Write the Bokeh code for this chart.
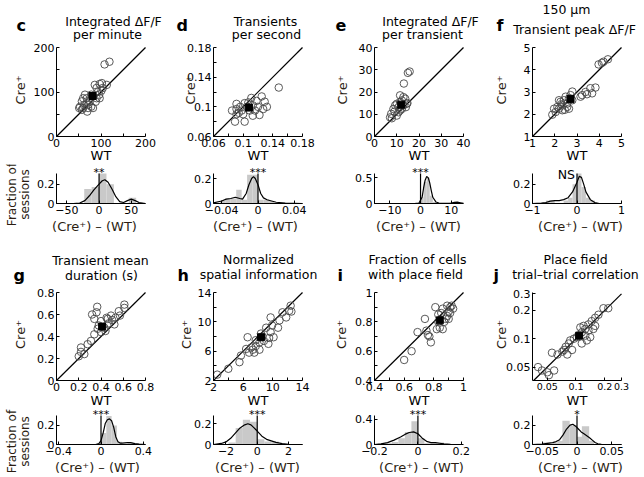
import numpy as np
from bokeh.plotting import figure
from bokeh.layouts import column, row
from bokeh.models import Range1d, Label, FixedTicker
from bokeh.embed import file_html
from bokeh.resources import INLINE

FONT = "DejaVu Sans"
MINUS = "\u2212"

# ---------------- scatter data (WT, Cre+) ----------------
C_WT = [108, 119, 86, 97, 102, 113, 90, 101, 96, 60, 57, 53, 60, 69, 78, 75, 68, 82, 64, 90, 57, 71, 82, 51, 68, 78, 97, 104, 72, 88, 62, 93]
C_CRE = [162, 168, 116, 118, 120, 116, 109, 103, 94, 86, 79, 67, 64, 56, 67, 79, 75, 90, 94, 86, 60, 64, 64, 64, 86, 94, 86, 109, 72, 78, 70, 100]
C_MEAN = (81, 91)

D_WT = [0.148, 0.091, 0.102, 0.111, 0.125, 0.129, 0.132, 0.122, 0.113, 0.102, 0.089, 0.091, 0.085, 0.098, 0.105, 0.113, 0.120, 0.127, 0.109, 0.096, 0.100, 0.091, 0.107, 0.116, 0.118, 0.094]
D_CRE = [0.126, 0.104, 0.105, 0.112, 0.114, 0.107, 0.100, 0.089, 0.088, 0.080, 0.080, 0.090, 0.095, 0.095, 0.100, 0.102, 0.100, 0.097, 0.095, 0.100, 0.090, 0.097, 0.106, 0.095, 0.108, 0.092]
D_MEAN = (0.108, 0.099)

E_WT = [15.0, 15.8, 13.2, 11.5, 13.0, 13.8, 10.0, 8.5, 7.5, 7.8, 10.8, 12.3, 14.5, 9.3, 11.5, 13.0, 10.8, 9.0, 12.3, 14.1, 14.8, 11.5, 7.0, 10.0]
E_CRE = [28.6, 29.2, 23.8, 18.5, 17.7, 17.0, 14.7, 12.4, 10.2, 8.2, 10.9, 12.4, 14.7, 14.0, 15.5, 14.0, 13.2, 11.2, 16.2, 13.2, 15.0, 11.7, 8.6, 9.4]
E_MEAN = (12.0, 14.3)

F_WT = [3.97, 4.19, 4.39, 4.12, 3.38, 3.60, 3.83, 3.23, 3.45, 3.68, 3.16, 1.89, 2.04, 2.19, 2.34, 2.26, 2.41, 2.56, 2.64, 2.71, 2.79, 2.49, 2.12, 2.34, 2.56, 2.79, 2.64, 2.19, 1.97, 2.30, 2.45]
F_CRE = [4.24, 4.36, 4.47, 4.31, 3.00, 3.17, 3.20, 2.86, 2.90, 2.94, 2.79, 1.98, 2.10, 2.25, 2.40, 2.56, 2.63, 2.48, 2.71, 2.86, 3.02, 2.79, 2.33, 2.18, 2.33, 2.63, 2.25, 2.63, 2.25, 2.45, 2.20]
F_MEAN = (2.71, 2.68)

G_WT = [0.366, 0.34, 0.32, 0.40, 0.38, 0.43, 0.46, 0.49, 0.53, 0.56, 0.61, 0.61, 0.57, 0.52, 0.47, 0.34, 0.31, 0.28, 0.22, 0.22, 0.25, 0.20, 0.40, 0.44, 0.37, 0.36, 0.50, 0.45]
G_CRE = [0.67, 0.56, 0.60, 0.54, 0.50, 0.48, 0.56, 0.59, 0.57, 0.63, 0.66, 0.69, 0.59, 0.51, 0.52, 0.42, 0.36, 0.33, 0.30, 0.26, 0.24, 0.22, 0.44, 0.45, 0.47, 0.62, 0.55, 0.57]
G_MEAN = (0.41, 0.49)

H_WT = [2.5, 4.0, 5.5, 5.7, 6.4, 6.6, 7.3, 7.7, 8.2, 8.6, 9.1, 9.5, 9.7, 9.9, 9.7, 10.9, 11.3, 11.8, 12.2, 12.4, 12.5, 10.7, 10.1, 9.4, 8.2, 7.5, 7.1, 8.8, 8.4, 7.7, 6.8]
H_CRE = [2.8, 3.6, 4.5, 5.4, 6.3, 7.9, 6.2, 6.7, 7.2, 8.0, 9.2, 7.8, 8.6, 9.5, 10.6, 10.2, 11.3, 10.6, 11.5, 12.2, 11.4, 9.2, 7.9, 7.0, 6.2, 5.8, 6.5, 7.4, 8.4, 7.5, 5.8]
H_MEAN = (8.4, 7.9)

I_WT = [0.60, 0.65, 0.69, 0.74, 0.75, 0.76, 0.77, 0.78, 0.81, 0.82, 0.83, 0.84, 0.86, 0.83, 0.86, 0.89, 0.91, 0.93, 0.90, 0.91, 0.88, 0.90, 0.85, 0.87, 0.92, 0.89]
I_CRE = [0.54, 0.60, 0.73, 0.82, 0.74, 0.71, 0.70, 0.66, 0.90, 0.75, 0.80, 0.76, 0.75, 0.85, 0.89, 0.91, 0.90, 0.89, 0.87, 0.86, 0.82, 0.82, 0.86, 0.80, 0.91, 0.84]
I_MEAN = (0.84, 0.81)

J_WT = [0.040, 0.044, 0.050, 0.052, 0.059, 0.056, 0.064, 0.072, 0.078, 0.075, 0.084, 0.087, 0.095, 0.102, 0.107, 0.115, 0.125, 0.135, 0.146, 0.159, 0.172, 0.194, 0.218, 0.115, 0.130, 0.141, 0.125, 0.111, 0.120, 0.135, 0.152, 0.159, 0.081, 0.091]
J_CRE = [0.050, 0.046, 0.044, 0.041, 0.046, 0.071, 0.068, 0.073, 0.082, 0.076, 0.089, 0.096, 0.100, 0.104, 0.108, 0.117, 0.127, 0.142, 0.154, 0.167, 0.180, 0.211, 0.211, 0.089, 0.096, 0.104, 0.108, 0.132, 0.137, 0.122, 0.127, 0.137, 0.068, 0.076]
J_MEAN = (0.108, 0.108)

# ---------------- histogram data: (Cre+) - (WT) ----------------
C_BIN_LEFT = [-23, -11.5, 0, 11.5, 46]
C_BIN_W = 11.5
C_BAR = [0.15, 0.17, 0.31, 0.2, 0.06]
C_KDE_X = [-66, -40, -30, -22, -15, -8, 0, 5, 9, 14, 20, 26, 32, 38, 44, 50, 56, 62, 72]
C_KDE_Y = [0, 0, 0.005, 0.03, 0.08, 0.14, 0.2, 0.235, 0.245, 0.22, 0.15, 0.07, 0.02, 0.01, 0.03, 0.045, 0.03, 0.01, 0]

D_BIN_LEFT = [-0.042, -0.036, -0.03, -0.024, -0.018, -0.012, -0.006, 0, 0.006, 0.012]
D_BIN_W = 0.006
D_BAR = [0.02, 0.04, 0.04, 0.11, 0.03, 0.23, 0.23, 0.03, 0.03, 0.02]
D_KDE_X = [-0.049, -0.04, -0.035, -0.03, -0.025, -0.02, -0.017, -0.013, -0.01, -0.007, -0.005, -0.003, 0, 0.003, 0.006, 0.01, 0.015, 0.02, 0.03, 0.049]
D_KDE_Y = [0.005, 0.02, 0.035, 0.04, 0.05, 0.04, 0.035, 0.08, 0.15, 0.2, 0.215, 0.2, 0.15, 0.08, 0.045, 0.03, 0.02, 0.01, 0.003, 0]

E_BIN_LEFT = [0, 1, 2, 3, 4, 9.5, 12]
E_BIN_W = 1
E_BAR = [0.12, 0.42, 0.5, 0.15, 0.03, 0.02, 0.02]
E_KDE_X = [-15, -2, -0.5, 0.5, 1, 1.5, 2, 2.5, 3, 3.5, 4, 5, 6, 8, 10, 11, 12, 13, 14]
E_KDE_Y = [0, 0, 0.01, 0.12, 0.3, 0.45, 0.52, 0.5, 0.4, 0.25, 0.12, 0.03, 0.01, 0.003, 0.01, 0.02, 0.025, 0.015, 0.005]

F_BIN_LEFT = [-0.7, -0.6, -0.3, -0.2, -0.1, 0, 0.1, 0.2, 0.3]
F_BIN_W = 0.1
F_BAR = [0.03, 0.03, 0.03, 0.06, 0.2, 0.31, 0.17, 0.06, 0.03]
F_KDE_X = [-1, -0.8, -0.7, -0.6, -0.5, -0.4, -0.3, -0.2, -0.1, 0, 0.05, 0.1, 0.15, 0.2, 0.3, 0.4, 0.5, 1]
F_KDE_Y = [0, 0.003, 0.01, 0.025, 0.03, 0.03, 0.04, 0.06, 0.12, 0.22, 0.28, 0.27, 0.2, 0.12, 0.04, 0.01, 0.0, 0]

G_BIN_LEFT = [0, 0.05, 0.1, 0.15, 0.25]
G_BIN_W = 0.05
G_BAR = [0.12, 0.3, 0.2, 0.03, 0.02]
G_KDE_X = [-0.42, -0.05, -0.02, 0, 0.02, 0.04, 0.06, 0.08, 0.1, 0.12, 0.14, 0.16, 0.18, 0.2, 0.25, 0.28, 0.32, 0.36, 0.42]
G_KDE_Y = [0, 0, 0.01, 0.04, 0.12, 0.22, 0.26, 0.27, 0.25, 0.18, 0.08, 0.03, 0.015, 0.015, 0.02, 0.02, 0.01, 0.003, 0]

H_BIN_LEFT = [-1.84, -1.38, -0.92, -0.46, 0, 0.46, 0.92]
H_BIN_W = 0.46
H_BAR = [0.02, 0.16, 0.24, 0.22, 0.05, 0.03, 0.03]
H_KDE_X = [-2.8, -2.3, -2, -1.7, -1.4, -1.1, -0.8, -0.6, -0.4, -0.2, 0, 0.3, 0.6, 0.9, 1.2, 1.6, 2, 2.9]
H_KDE_Y = [0, 0.01, 0.025, 0.06, 0.11, 0.16, 0.19, 0.2, 0.19, 0.16, 0.13, 0.08, 0.05, 0.035, 0.02, 0.008, 0.002, 0]

I_BIN_LEFT = [-0.15, -0.12, -0.09, -0.06, -0.03, 0, 0.03, 0.06, 0.09]
I_BIN_W = 0.03
I_BAR = [0.02, 0.04, 0.1, 0.2, 0.37, 0.1, 0.02, 0.04, 0.03]
I_KDE_X = [-0.2, -0.17, -0.14, -0.11, -0.08, -0.06, -0.04, -0.02, 0, 0.02, 0.04, 0.06, 0.08, 0.1, 0.12, 0.15, 0.2]
I_KDE_Y = [0, 0.01, 0.03, 0.07, 0.12, 0.16, 0.19, 0.2, 0.17, 0.1, 0.05, 0.03, 0.03, 0.02, 0.01, 0.002, 0]

J_BIN_LEFT = [-0.049, -0.035, -0.028, -0.021, -0.0105, 0, 0.007, 0.014]
J_BIN_W = 0.0105
J_BAR = [0.02, 0.02, 0.04, 0.245, 0.2, 0.08, 0.19, 0.04]
J_KDE_X = [-0.064, -0.05, -0.045, -0.04, -0.035, -0.03, -0.025, -0.02, -0.015, -0.01, -0.006, -0.002, 0.002, 0.006, 0.01, 0.014, 0.018, 0.022, 0.026, 0.03, 0.035, 0.045, 0.064]
J_KDE_Y = [0, 0.004, 0.01, 0.015, 0.02, 0.03, 0.05, 0.1, 0.16, 0.2, 0.21, 0.19, 0.16, 0.13, 0.11, 0.09, 0.07, 0.045, 0.02, 0.008, 0.002, 0, 0]

# ---------------- panel definitions ----------------
PANELS = [
    dict(letter="c", title=["Integrated \u0394F/F", "per minute"], wt=C_WT, cre=C_CRE, mean=C_MEAN,
         xr=(0, 200), yr=(0, 200), ticks=[0, 50, 100, 150, 200], tlab=["0", "", "100", "", "200"],
         bl=C_BIN_LEFT, bw=C_BIN_W, bar=C_BAR, kx=C_KDE_X, ky=C_KDE_Y,
         hx=(-66, 72), hxt=[-50, 0, 50], hxl=[MINUS + "50", "0", "50"], hy=0.31, hyt=[0, 0.2], hyl=["0", "0.2"], sig="**"),
    dict(letter="d", title=["Transients", "per second"], wt=D_WT, cre=D_CRE, mean=D_MEAN,
         xr=(0.06, 0.18), yr=(0.06, 0.18), ticks=[0.06, 0.08, 0.1, 0.12, 0.14, 0.16, 0.18], tlab=["0.06", "", "0.1", "", "0.14", "", "0.18"],
         bl=D_BIN_LEFT, bw=D_BIN_W, bar=D_BAR, kx=D_KDE_X, ky=D_KDE_Y,
         hx=(-0.049, 0.049), hxt=[-0.04, 0, 0.04], hxl=[MINUS + "0.04", "0", "0.04"], hy=0.24, hyt=[0, 0.2], hyl=["0", "0.2"], sig="***"),
    dict(letter="e", title=["Integrated \u0394F/F", "per transient"], wt=E_WT, cre=E_CRE, mean=E_MEAN,
         xr=(0, 40), yr=(0, 40), ticks=[0, 10, 20, 30, 40], tlab=["0", "10", "20", "30", "40"],
         bl=E_BIN_LEFT, bw=E_BIN_W, bar=E_BAR, kx=E_KDE_X, ky=E_KDE_Y,
         hx=(-15, 14), hxt=[-10, 0, 10], hxl=[MINUS + "10", "0", "10"], hy=0.58, hyt=[0, 0.5], hyl=["0", "0.5"], sig="***"),
    dict(letter="f", title=["Transient peak \u0394F/F"], wt=F_WT, cre=F_CRE, mean=F_MEAN,
         xr=(1, 5), yr=(1, 5), ticks=[1, 2, 3, 4, 5], tlab=["1", "2", "3", "4", "5"],
         bl=F_BIN_LEFT, bw=F_BIN_W, bar=F_BAR, kx=F_KDE_X, ky=F_KDE_Y,
         hx=(-1, 1), hxt=[-1, 0, 1], hxl=[MINUS + "1", "0", "1"], hy=0.31, hyt=[0, 0.2], hyl=["0", "0.2"], sig=None),
    dict(letter="g", title=["Transient mean", "duration (s)"], wt=G_WT, cre=G_CRE, mean=G_MEAN,
         xr=(0, 0.8), yr=(0, 0.8), ticks=[0, 0.2, 0.4, 0.6, 0.8], tlab=["0", "0.2", "0.4", "0.6", "0.8"],
         bl=G_BIN_LEFT, bw=G_BIN_W, bar=G_BAR, kx=G_KDE_X, ky=G_KDE_Y,
         hx=(-0.42, 0.42), hxt=[-0.4, 0, 0.4], hxl=[MINUS + "0.4", "0", "0.4"], hy=0.305, hyt=[0, 0.2], hyl=["0", "0.2"], sig="***"),
    dict(letter="h", title=["Normalized", "spatial information"], wt=H_WT, cre=H_CRE, mean=H_MEAN,
         xr=(2, 14), yr=(2, 14), ticks=[2, 4, 6, 8, 10, 12, 14], tlab=["2", "", "6", "", "10", "", "14"],
         bl=H_BIN_LEFT, bw=H_BIN_W, bar=H_BAR, kx=H_KDE_X, ky=H_KDE_Y,
         hx=(-2.8, 2.9), hxt=[-2, 0, 2], hxl=[MINUS + "2", "0", "2"], hy=0.28, hyt=[0, 0.2], hyl=["0", "0.2"], sig="***"),
    dict(letter="i", title=["Fraction of cells", "with place field"], wt=I_WT, cre=I_CRE, mean=I_MEAN,
         xr=(0.4, 1.0), yr=(0.4, 1.0), ticks=[0.4, 0.5, 0.6, 0.7, 0.8, 0.9, 1.0], tlab=["0.4", "", "0.6", "", "0.8", "", "1"],
         bl=I_BIN_LEFT, bw=I_BIN_W, bar=I_BAR, kx=I_KDE_X, ky=I_KDE_Y,
         hx=(-0.2, 0.21), hxt=[-0.2, 0, 0.2], hxl=[MINUS + "0.2", "0", "0.2"], hy=0.46, hyt=[0, 0.4], hyl=["0", "0.4"], sig="***"),
    dict(letter="j", title=["Place field", "trial\u2013trial correlation"], wt=J_WT, cre=J_CRE, mean=J_MEAN,
         xr=(0.035, 0.30), yr=(0.036, 0.31), ticks=[0.05, 0.1, 0.2, 0.3], tlab=["0.05", "0.1", "0.2", "0.3"], log=True,
         bl=J_BIN_LEFT, bw=J_BIN_W, bar=J_BAR, kx=J_KDE_X, ky=J_KDE_Y,
         hx=(-0.064, 0.064), hxt=[-0.05, 0, 0.05], hxl=[MINUS + "0.05", "0", "0.05"], hy=0.30, hyt=[0, 0.2], hyl=["0", "0.2"], sig="*"),
]

# ---------------- layout geometry (page pixels) ----------------
COL_X0 = [0, 169, 322, 490, 644]
FRAME_L = [56, 213, 374, 532]
FRAME_W = 89
ROWS = [dict(sy0=0, sft=47, sfh=89, hy0=164, hft=173, hfh=30, hy1=238, wt_y=158.5, hl_y=229, frac_y=194),
        dict(sy0=238, sft=292, sfh=88, hy0=408, hft=415, hfh=29, hy1=477, wt_y=403, hl_y=470, frac_y=441)]

TITLE_POS = {
    "c": [(113, 24), (107, 37)], "d": [(265, 24), (266, 37)], "e": [(430, 24), (422, 37)], "f": [(574, 32)],
    "g": [(100, 263), (101, 278)], "h": [(258, 262), (258, 277)], "i": [(417, 262), (415, 277)], "j": [(575, 262), (575, 277)],
}
LETTER_POS = {"c": (16, 28), "d": (176, 28), "e": (335, 28), "f": (496, 28),
              "g": (13, 278), "h": (177, 278), "i": (337, 278), "j": (493, 278)}
CRE_DX = {"c": 36, "d": 23, "e": 32, "f": 31, "g": 36, "h": 27, "i": 33, "j": 31}
HXLAB_X = {"c": 94, "d": 255, "e": 418, "f": 580, "g": 97, "h": 257, "i": 421, "j": 580}
DARK = "#2b1d12"
TEXT_SHIFT = 3.5   # empirical correction of Bokeh's alphabetic-baseline placement


def extend(a, b, lead, trail, size, log):
    if log:
        A, B = np.log10(a), np.log10(b)
        s = (B - A) / size
        return 10 ** (A - lead * s), 10 ** (B + trail * s)
    s = (b - a) / size
    return a - lead * s, b + trail * s


def make_fig(px0, px1, py0, py1, fl, ft, fw, fh, xr, yr, log=False):
    w, h = px1 - px0, py1 - py0
    xs, xe = extend(xr[0], xr[1], fl - px0, px1 - (fl + fw), fw, log)
    ys, ye = extend(yr[0], yr[1], py1 - (ft + fh), ft - py0, fh, log)
    p = figure(width=w, height=h, x_range=Range1d(xs, xe), y_range=Range1d(ys, ye),
               x_axis_type="log" if log else "linear", y_axis_type="log" if log else "linear",
               toolbar_location=None, output_backend="svg",
               min_border_left=0, min_border_right=0, min_border_top=0, min_border_bottom=0)
    p.outline_line_color = None
    p.grid.visible = False
    p.background_fill_color = "white"
    p.border_fill_color = "white"
    p.xaxis.fixed_location = yr[0]
    p.xaxis.bounds = xr
    p.yaxis.fixed_location = xr[0]
    p.yaxis.bounds = yr
    for ax in p.axis:
        ax.axis_line_color = "black"
        ax.axis_line_width = 1
        ax.major_tick_in = 3
        ax.major_tick_out = 0
        ax.minor_tick_in = 0
        ax.minor_tick_out = 0
        ax.major_tick_line_color = "black"
        ax.major_label_text_font = FONT
        ax.major_label_text_font_size = "11px"
        ax.major_label_text_color = "black"
        ax.major_label_standoff = 2
    return p


def put(p, anchor, sx, sy, text, size="12.5px", bold=False, align="center",
        baseline="alphabetic", angle=0.0, color="black"):
    ax, ay, fl, ft = anchor
    if angle == 0.0:
        sy = sy - TEXT_SHIFT
    p.add_layout(Label(x=ax, y=ay, x_offset=sx - fl, y_offset=ft - sy,
                       text=text, text_font=FONT, text_font_size=size,
                       text_font_style="bold" if bold else "normal", text_align=align,
                       text_baseline=baseline, angle=angle, text_color=color))


bands = []
for ri, R in enumerate(ROWS):
    srow, hrow = [], []
    for ci in range(4):
        d = PANELS[ri * 4 + ci]
        L = d["letter"]
        fl = FRAME_L[ci]
        px0, px1 = COL_X0[ci], COL_X0[ci + 1]
        log = d.get("log", False)
        xr, yr = d["xr"], d["yr"]

        # ---- scatter ----
        ft, fh = R["sft"], R["sfh"]
        p = make_fig(px0, px1, R["sy0"], R["hy0"], fl, ft, FRAME_W, fh, xr, yr, log)
        anc = (xr[0], yr[1], fl, ft)
        for ax in (p.xaxis[0], p.yaxis[0]):
            ax.ticker = FixedTicker(ticks=d["ticks"])
            ax.major_label_overrides = dict(zip(d["ticks"], d["tlab"]))
        if log:
            p.xaxis.major_label_text_font_size = "9.5px"
        lo, hi = max(xr[0], yr[0]), min(xr[1], yr[1])
        p.line([lo, hi], [lo, hi], line_color="black", line_width=1.2)
        p.scatter(d["wt"], d["cre"], marker="circle", size=7.5, fill_color=None,
                  line_color="#474747", line_width=0.9)
        p.scatter([d["mean"][0]], [d["mean"][1]], marker="square", size=7,
                  fill_color="black", line_color="black")
        for txt, (sx, sy) in zip(d["title"], TITLE_POS[L]):
            put(p, anc, sx, sy, txt)
        lx, ly = LETTER_POS[L]
        put(p, anc, lx, ly, L, size="16px", bold=True, align="left")
        put(p, anc, fl - CRE_DX[L], ft + fh / 2 - 2, "Cre\u207a", size="13px", baseline="middle",
            angle=np.pi / 2, color=DARK)
        put(p, anc, fl + FRAME_W / 2, R["wt_y"], "WT", size="13px")
        if L == "f":
            put(p, anc, 566, 12, "150 \u00b5m", size="12.5px")
        srow.append(p)

        # ---- histogram ----
        hft, hfh = R["hft"], R["hfh"]
        hx, hyr = d["hx"], (0, d["hy"])
        h = make_fig(px0, px1, R["hy0"], R["hy1"], fl, hft, FRAME_W, hfh, hx, hyr)
        hanc = (hx[0], hyr[1], fl, hft)
        h.xaxis.ticker = FixedTicker(ticks=d["hxt"])
        h.xaxis.major_label_overrides = dict(zip(d["hxt"], d["hxl"]))
        h.yaxis.ticker = FixedTicker(ticks=d["hyt"])
        h.yaxis.major_label_overrides = dict(zip(d["hyt"], d["hyl"]))
        lefts = list(d["bl"])
        rights = [b + d["bw"] for b in lefts]
        h.quad(left=lefts, right=rights, bottom=0, top=d["bar"], fill_color="#c9c9c9", line_color=None)
        h.line(d["kx"], d["ky"], line_color="black", line_width=1.2)
        h.segment(x0=[0], y0=[0], x1=[0], y1=[d["hy"]], line_color="black", line_width=1.2)
        if d["sig"]:
            h.add_layout(Label(x=0, y=d["hy"], y_offset=1, text=d["sig"], text_font=FONT,
                               text_font_size="11px", text_align="center", text_baseline="alphabetic",
                               text_color="black"))
        else:
            h.add_layout(Label(x=-0.24, y=0.28, y_offset=2, text="NS", text_font=FONT, text_font_size="12.5px",
                               text_align="center", text_baseline="middle", text_color="black"))
        put(h, hanc, HXLAB_X[L], R["hl_y"], "(Cre\u207a) \u2013 (WT)", size="13px", color=DARK)
        if ci == 0:
            cy = R["frac_y"]
            put(h, hanc, 11, cy, "Fraction of", size="12px", baseline="middle", angle=np.pi / 2, color=DARK)
            put(h, hanc, 24, cy, "sessions", size="12px", baseline="middle", angle=np.pi / 2, color=DARK)
        hrow.append(h)
    bands.append(row(*srow, spacing=0))
    bands.append(row(*hrow, spacing=0))

layout = column(*bands, spacing=0)
open("out.html", "w").write(file_html(layout, INLINE))
